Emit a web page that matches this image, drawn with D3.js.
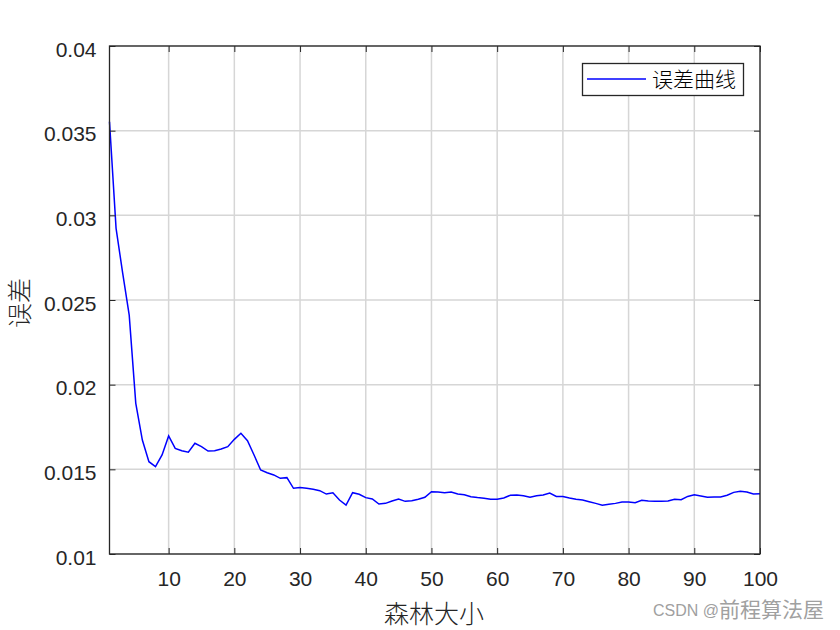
<!DOCTYPE html>
<html><head><meta charset="utf-8">
<script src="https://cdn.jsdelivr.net/npm/d3@7"></script>
<style>body{margin:0;background:#fff}</style>
</head><body>
<svg id="c" width="840" height="630"></svg>
<script>
const xValues = d3.range(1, 101);
const errValues = [
0.03553,0.02923,0.0266,0.02411,0.0189,0.01673,0.01545,0.01516,0.01585,0.01697,
0.01624,0.0161,0.01601,0.01654,0.01634,0.01608,0.0161,0.0162,0.01634,0.01677,
0.01713,0.01669,0.01585,0.01496,0.0148,0.01467,0.01447,0.01451,0.01388,0.01392,
0.01388,0.01382,0.01374,0.01354,0.01362,0.01319,0.01289,0.01362,0.01353,0.01333,
0.01325,0.01295,0.01299,0.01313,0.01325,0.01311,0.01315,0.01323,0.01335,0.01368,
0.01366,0.01362,0.01366,0.01354,0.0135,0.01338,0.01333,0.01329,0.01323,0.01323,
0.01331,0.01347,0.01348,0.01344,0.01335,0.01344,0.01348,0.0136,0.0134,0.0134,
0.01331,0.01323,0.01319,0.01309,0.01299,0.01288,0.01294,0.01299,0.01307,0.01307,
0.01303,0.01317,0.01313,0.01311,0.01311,0.01313,0.01323,0.01321,0.0134,0.0135,
0.01343,0.01335,0.01337,0.01337,0.01347,0.01364,0.0137,0.01366,0.01354,0.01356];
const xTicks = [10,20,30,40,50,60,70,80,90,100];
const yTicks = [0.01,0.015,0.02,0.025,0.03,0.035,0.04];
const yTickLabels = ["0.01","0.015","0.02","0.025","0.03","0.035","0.04"];
const xLabel = "森林大小", yLabel = "误差", legendLabel = "误差曲线";
const watermarkLatin = "CSDN @", watermarkCJK = "前程算法屋";

const L=109.5, R=760, T=46, B=554;
const svg = d3.select("#c");
const x = d3.scaleLinear().domain([1,100]).range([L,R]);
const y = d3.scaleLinear().domain([0.01,0.04]).range([B,T]);
const axisCol="#262626", font="'Liberation Sans', Arial, sans-serif";

// grid
const g = svg.append("g");
g.selectAll(".gx").data(xTicks).join("line")
 .attr("x1",d=>x(d)).attr("x2",d=>x(d)).attr("y1",T).attr("y2",B)
 .attr("stroke","#d6d6d6").attr("stroke-width",1.5);
g.selectAll(".gy").data(yTicks).join("line")
 .attr("y1",d=>y(d)).attr("y2",d=>y(d)).attr("x1",L).attr("x2",R)
 .attr("stroke","#d6d6d6").attr("stroke-width",1.5);

// line
svg.append("path").datum(xValues.map((v,i)=>[v,errValues[i]]))
 .attr("fill","none").attr("stroke","#0000ff").attr("stroke-width",1.5)
 .attr("d",d3.line().x(d=>x(d[0])).y(d=>y(d[1])));

// axes
const ax = (sel)=>{sel.select(".domain").remove(); sel.selectAll("line").attr("stroke",axisCol);};
svg.append("g").attr("transform",`translate(0,${B})`)
 .call(d3.axisBottom(x).tickValues(xTicks).tickSizeInner(-6).tickSizeOuter(0).tickPadding(17.5))
 .call(ax).selectAll("text").attr("font-family",font).attr("font-size",21).attr("fill",axisCol);
svg.append("g").attr("transform",`translate(0,${T})`)
 .call(d3.axisTop(x).tickValues(xTicks).tickSizeInner(-6).tickSizeOuter(0).tickFormat(""))
 .call(ax);
svg.append("g").attr("transform",`translate(${L},0)`)
 .call(d3.axisLeft(y).tickValues(yTicks).tickSizeInner(-6).tickSizeOuter(0).tickPadding(13).tickFormat((d,i)=>yTickLabels[i]))
 .call(ax).selectAll("text").attr("font-family",font).attr("font-size",21).attr("fill",axisCol).attr("dy","0.48em");
svg.append("g").attr("transform",`translate(${R},0)`)
 .call(d3.axisRight(y).tickValues(yTicks).tickSizeInner(-6).tickSizeOuter(0).tickFormat(""))
 .call(ax);
svg.append("rect").attr("x",L).attr("y",T).attr("width",R-L).attr("height",B-T)
 .attr("fill","none").attr("stroke",axisCol).attr("stroke-width",1.3);

// labels
const cjk="'Noto Sans CJK SC', sans-serif";
svg.append("text").attr("x",434).attr("y",623).attr("text-anchor","middle")
 .attr("font-family",cjk).attr("font-size",25).attr("font-weight",300).attr("fill",axisCol).text(xLabel);
svg.append("text").attr("transform",`translate(29,303) rotate(-90)`).attr("text-anchor","middle")
 .attr("font-family",cjk).attr("font-size",25).attr("font-weight",300).attr("fill",axisCol).text(yLabel);

// legend
const lg = svg.append("g");
lg.append("rect").attr("x",582.5).attr("y",63.5).attr("width",161).attr("height",32)
 .attr("fill","#fff").attr("stroke",axisCol).attr("stroke-width",1.3);
lg.append("line").attr("x1",587).attr("x2",646).attr("y1",79).attr("y2",79)
 .attr("stroke","#0000ff").attr("stroke-width",1.5);
lg.append("text").attr("x",652).attr("y",86.5).attr("font-family",cjk).attr("font-size",21)
 .attr("font-weight",300).attr("fill","#000").text(legendLabel);

// watermark
const wm = svg.append("text").attr("x",653).attr("y",616).attr("fill","#a0a0a0");
wm.append("tspan").attr("font-family",font).attr("font-size",16).text(watermarkLatin);
wm.append("tspan").attr("font-family",cjk).attr("font-size",21).attr("dy",1).text(watermarkCJK);
</script>
</body></html>
